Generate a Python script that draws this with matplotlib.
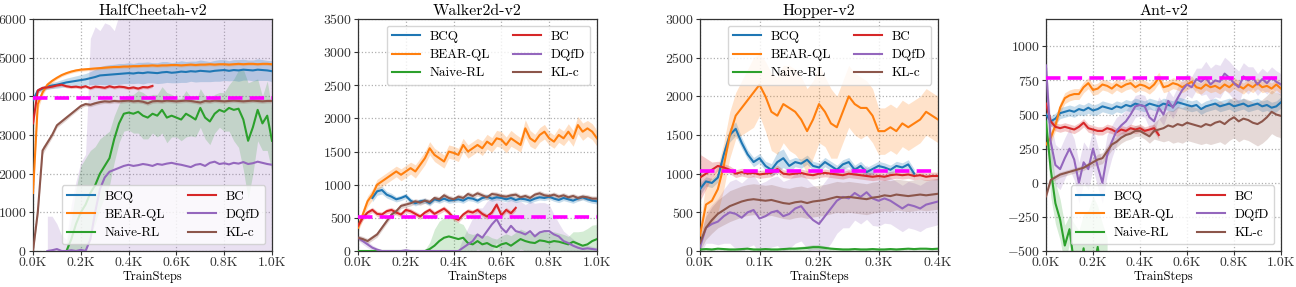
import numpy as np
import matplotlib
matplotlib.use("Agg")
import matplotlib.pyplot as plt
from matplotlib.ticker import FuncFormatter, MultipleLocator

plt.rcParams['font.family'] = 'serif'
plt.rcParams['font.serif'] = ['cmr10']
plt.rcParams['mathtext.fontset'] = 'cm'
plt.rcParams['axes.formatter.use_mathtext'] = True
plt.rcParams['axes.unicode_minus'] = True

methods = ["BCQ", "BEAR-QL", "Naive-RL", "BC", "DQfD", "KL-c"]
colors = ["#1f77b4", "#ff7f0e", "#2ca02c", "#d62728", "#9467bd", "#8c564b"]
titles = ["HalfCheetah-v2", "Walker2d-v2", "Hopper-v2", "Ant-v2"]
x_label = "TrainSteps"

# ---------------- HalfCheetah (x in K steps, 0.02 spacing) ----------------
hc_x = np.linspace(0.0, 1.0, 51)
hc_ref = 3950
hc_bcq = [3900, 4150, 4200, 4250, 4280, 4300, 4330, 4360, 4380, 4400, 4420, 4440, 4470, 4500, 4540, 4550,
          4560, 4570, 4580, 4590, 4600, 4590, 4610, 4600, 4620, 4610, 4600, 4620, 4630, 4610, 4620, 4640,
          4630, 4650, 4640, 4660, 4650, 4640, 4660, 4670, 4680, 4660, 4680, 4670, 4690, 4680, 4670, 4690,
          4680, 4670, 4650]
hc_bcq_std = [50, 60, 60, 70, 80, 90, 100, 110, 120, 130, 140, 150, 170, 200, 230, 250, 260, 260, 270, 260,
              270, 260, 270, 280, 270, 260, 270, 280, 270, 260, 270, 280, 270, 260, 270, 280, 270, 260, 270,
              280, 270, 260, 270, 280, 270, 260, 270, 280, 270, 260, 270]
hc_bear = [1500, 3800, 4100, 4300, 4400, 4480, 4550, 4600, 4640, 4670, 4690, 4700, 4710, 4720, 4730, 4740,
           4750, 4760, 4760, 4770, 4770, 4780, 4780, 4790, 4790, 4800, 4790, 4800, 4800, 4810, 4810, 4800,
           4810, 4820, 4810, 4820, 4820, 4830, 4820, 4830, 4830, 4820, 4830, 4840, 4830, 4840, 4840, 4830,
           4840, 4840, 4830]
hc_bear_std = [100, 150, 80, 60, 50, 40, 40, 40, 40, 40, 40, 40, 40, 40, 40, 40, 40, 40, 40, 40, 40, 40, 40,
               40, 40, 40, 40, 40, 40, 40, 40, 40, 40, 40, 40, 40, 40, 40, 40, 40, 40, 40, 40, 40, 40, 40,
               40, 40, 40, 40, 40]
hc_naive = [0, 300, 700, 1000, 1200, 1500, 1700, 2000, 2200, 2400, 2900, 3300, 3550, 3580, 3550, 3600, 3500,
            3450, 3550, 3500, 3650, 3450, 3500, 3450, 3400, 3550, 3480, 3400, 3700, 3450, 3350, 3550, 3650,
            3600, 3700, 3650, 3680, 3400, 2850, 3200, 3650, 3300, 3500, 2850]
hc_naive_std = [200, 500, 900, 1200, 1200, 1100, 1000, 900, 800, 700, 600, 500, 450, 450, 500, 550, 600, 550,
                500, 550, 600, 650, 550, 500, 550, 600, 500, 450, 500, 550, 600, 500, 450, 500, 600, 800,
                1000, 1300, 1500, 1200, 800, 700, 900, 800]
hc_naive_start = 7
hc_bc = [3300, 4150, 4220, 4230, 4250, 4280, 4300, 4260, 4240, 4250, 4230, 4260, 4210, 4250, 4240, 4220,
         4260, 4230, 4250, 4240, 4210, 4230, 4200, 4240, 4230, 4270]
hc_bc_std = [200, 60, 40, 40, 40, 40, 40, 40, 40, 40, 40, 40, 40, 40, 40, 40, 40, 40, 40, 40, 40, 40, 40,
             40, 40, 40]
hc_dqfd = [0, 20, 50, 0, 0, 20, 0, 30, 0, 300, 1000, 1600, 1900, 2050, 2100, 2150, 2200, 2230, 2200, 2220,
           2250, 2230, 2200, 2250, 2230, 2260, 2280, 2250, 2230, 2200, 2170, 2230, 2250, 2200, 2280, 2310,
           2250, 2270, 2240, 2280, 2260, 2300, 2250, 2270, 2310, 2280, 2250, 2230]
hc_dqfd_hi = [900, 900, 700, 400, 300, 1200, 1800, 2300, 2500, 5500, 5800, 5700, 5900, 5850, 5700, 6100,
              6500, 6500, 6500, 6500, 6500, 6500, 6500, 6500, 6500, 6500, 6500, 6500, 6500, 6500, 6500, 6500,
              6500, 6500, 6500, 6500, 6500, 6500, 6500, 6500, 6500, 6500, 6500, 6500, 6500, 6500, 6500, 6500]
hc_dqfd_start = 3
hc_kl = [0, 1000, 2600, 2800, 3000, 3250, 3350, 3450, 3550, 3650, 3750, 3800, 3780, 3820, 3850, 3870, 3860,
         3880, 3870, 3880, 3890, 3870, 3880, 3860, 3820, 3870, 3880, 3870, 3890, 3880, 3870, 3880, 3890,
         3880, 3860, 3840, 3880, 3870, 3890, 3880, 3870, 3880, 3890, 3880, 3870, 3880, 3890, 3880, 3870,
         3880, 3880]
hc_kl_std = [50, 100, 100, 80, 70, 60, 60, 60, 50, 50, 50, 50, 50, 50, 50, 50, 50, 50, 50, 50, 50, 50, 50,
             50, 50, 50, 50, 50, 50, 50, 50, 50, 50, 50, 50, 50, 50, 50, 50, 50, 50, 50, 50, 50, 50, 50, 50,
             50, 50, 50, 50]

# ---------------- Walker2d ----------------
wk_x = np.linspace(0.0, 1.0, 51)
wk_ref = 510
wk_bcq = [800, 900, 920, 850, 820, 780, 800, 830, 760, 720, 750, 760, 720, 780, 760, 790, 760, 770, 780, 760,
          800, 790, 760, 800, 820, 790, 810, 800, 780, 800, 770, 790, 780, 760, 790, 810, 800, 820, 790, 770,
          800, 780, 760, 790, 810, 780, 760, 750]
wk_bcq_std = [60, 60, 60, 50, 50, 40, 40, 40, 40, 40, 40, 40, 40, 40, 40, 40, 40, 40, 40, 40, 40, 40, 40, 40,
              40, 40, 40, 40, 40, 40, 40, 40, 40, 40, 40, 40, 40, 40, 40, 40, 40, 40, 40, 40, 40, 40, 40, 40]
wk_bcq_start = 3
wk_bear = [350, 550, 750, 850, 1000, 1050, 1100, 1150, 1200, 1150, 1200, 1250, 1200, 1300, 1400, 1550, 1450,
           1400, 1350, 1500, 1480, 1450, 1600, 1500, 1550, 1600, 1550, 1650, 1600, 1700, 1680, 1600, 1700,
           1650, 1600, 1850, 1700, 1650, 1750, 1800, 1700, 1650, 1750, 1700, 1800, 1700, 1900, 1800, 1850,
           1800, 1700]
wk_bear_std = [60, 80, 80, 80, 80, 80, 80, 80, 80, 90, 90, 90, 100, 100, 100, 100, 100, 100, 100, 100, 100,
               100, 100, 100, 100, 100, 110, 110, 110, 120, 120, 120, 120, 110, 110, 130, 120, 110, 110, 110,
               100, 100, 110, 110, 120, 120, 130, 130, 120, 120, 120]
wk_naive = [0, 0, 0, 0, 0, 0, 0, 0, 0, 0, 0, 0, 0, 0, 0, 30, 80, 150, 200, 220, 200, 180, 200, 120, 100, 150,
            100, 120, 80, 60, 100, 120, 80, 130, 180, 150, 130, 120, 160, 150, 130, 150, 140, 120, 100, 140,
            110, 80, 100, 150, 180]
wk_naive_std = [0, 0, 0, 0, 0, 0, 0, 0, 0, 0, 0, 0, 0, 0, 20, 100, 250, 300, 300, 300, 300, 250, 200, 150,
                150, 120, 120, 120, 120, 120, 130, 140, 150, 150, 150, 150, 140, 140, 150, 150, 140, 140, 130,
                130, 120, 150, 180, 220, 240, 240, 220]
wk_bc = [380, 500, 580, 620, 560, 550, 600, 620, 580, 550, 620, 600, 560, 520, 580, 620, 560, 600, 640, 580,
         500, 470, 550, 600, 580, 620, 560, 520, 580, 700, 540, 620, 570, 650]
wk_bc_std = [40, 40, 40, 40, 40, 40, 40, 40, 40, 40, 40, 40, 40, 40, 40, 40, 40, 40, 40, 40, 40, 40, 40, 40,
             40, 40, 40, 40, 40, 40, 40, 40, 40, 40]
wk_dqfd = [200, 150, 100, 50, 20, 0, 0, 0, 0, 0, 10, 0, 0, 0, 0, 0, 0, 0, 0, 0, 0, 0, 50, 100, 150, 250, 200,
           300, 400, 480, 350, 280, 380, 300, 280, 250, 300, 220, 280, 300, 300, 250, 220, 150, 120, 80, 50,
           30, 40, 30, 20]
wk_dqfd_std = [40, 50, 50, 40, 30, 20, 10, 10, 10, 10, 10, 10, 10, 10, 10, 10, 10, 10, 10, 10, 10, 20, 150,
               250, 350, 400, 450, 450, 400, 350, 400, 450, 420, 450, 470, 450, 450, 500, 450, 430, 400, 300,
               200, 150, 120, 100, 80, 60, 50, 40, 30]
wk_kl = [200, 180, 150, 200, 250, 350, 450, 550, 600, 680, 700, 720, 750, 730, 760, 740, 800, 780, 840, 800,
         780, 820, 800, 860, 830, 870, 840, 810, 860, 850, 830, 820, 840, 850, 810, 830, 800, 850, 870, 840,
         830, 850, 820, 840, 810, 830, 800, 820, 810, 790, 790]
wk_kl_std = [40, 40, 40, 40, 40, 40, 40, 40, 40, 40, 40, 40, 40, 40, 40, 40, 40, 40, 40, 40, 40, 40, 40, 40,
             40, 40, 40, 40, 40, 40, 40, 40, 40, 40, 40, 40, 40, 40, 40, 40, 40, 40, 40, 40, 40, 40, 40, 40,
             40, 40, 40]

# ---------------- Hopper (0.01K spacing) ----------------
hp_x = np.linspace(0.0, 0.4, 41)
hp_ref = 1030
hp_bcq = [800, 900, 880, 950, 1250, 1500, 1580, 1400, 1250, 1150, 1200, 1100, 1050, 1150, 1200, 1100, 1150,
          1130, 1180, 1100, 1080, 1150, 1100, 1050, 1120, 1150, 1050, 1100, 1020, 1060, 1100, 1080, 1050,
          1100, 1080, 1120, 1000]
hp_bcq_std = [80, 60, 60, 60, 80, 90, 90, 70, 60, 60, 60, 60, 80, 130, 120, 80, 60, 60, 60, 60, 60,
              60, 60, 60, 60, 60, 60, 60, 60, 60, 60, 60, 60, 60, 60, 60, 60]
hp_bear = [200, 600, 650, 800, 1100, 1500, 1750, 1850, 1950, 2050, 2150, 2000, 1800, 1750, 1900, 1850, 1800,
           1700, 1550, 1700, 1900, 1800, 1650, 1600, 1800, 2000, 1900, 1850, 1850, 1750, 1550, 1550, 1600,
           1550, 1650, 1600, 1650, 1700, 1800, 1750, 1700]
hp_bear_std = [100, 300, 300, 300, 300, 300, 300, 350, 400, 450, 400, 450, 500, 500, 500, 550, 550, 550, 550,
               500, 500, 450, 450, 400, 400, 400, 400, 400, 350, 350, 300, 300, 300, 300, 300, 300, 300, 300,
               300, 300, 300]
hp_naive = [20, 25, 20, 30, 25, 20, 20, 25, 30, 20, 20, 25, 20, 20, 25, 30, 30, 35, 40, 50, 50, 40, 30, 25,
            20, 20, 25, 20, 20, 25, 20, 20, 25, 20, 25, 30, 25, 30, 30, 25, 30]
hp_naive_std = [15, 15, 15, 15, 15, 15, 15, 15, 15, 15, 15, 15, 15, 15, 15, 20, 20, 25, 30, 30, 30, 25, 20,
                15, 15, 15, 15, 15, 15, 15, 15, 15, 15, 15, 15, 15, 15, 15, 15, 15, 15]
hp_bc = [950, 1000, 1050, 1100, 1080, 1050, 1000, 1020, 1000, 1010, 990, 1000, 1010, 1060, 1000, 990, 1000,
         1010, 990, 980, 1000, 1010, 1000, 990, 980, 1000, 990, 980, 970, 960, 970, 960, 980, 990, 980, 990,
         970, 980, 960, 970, 970]
hp_bc_std = [300, 200, 100, 60, 50, 50, 50, 50, 50, 50, 50, 50, 50, 50, 50, 50, 50, 50, 50, 50, 50, 50, 50,
             50, 50, 50, 50, 50, 50, 50, 50, 50, 50, 50, 50, 50, 50, 50, 50, 50, 50]
hp_dqfd = [50, 300, 350, 380, 450, 500, 480, 430, 500, 530, 420, 450, 500, 520, 450, 480, 550, 580, 480, 400,
           350, 450, 550, 650, 700, 680, 750, 700, 760, 680, 650, 680, 650, 600, 550, 600, 580, 550, 600, 620,
           640]
hp_dqfd_std = [100, 200, 250, 300, 350, 400, 450, 450, 450, 450, 450, 450, 450, 450, 450, 450, 450, 450, 450,
               450, 450, 450, 450, 420, 400, 380, 350, 350, 350, 350, 330, 320, 300, 300, 300, 300, 300, 300,
               300, 300, 300]
hp_kl = [100, 300, 400, 480, 530, 580, 610, 640, 660, 670, 660, 650, 660, 640, 620, 610, 630, 640, 620, 640,
         650, 660, 680, 700, 690, 700, 690, 680, 670, 690, 700, 720, 710, 730, 720, 710, 720, 730, 720, 730,
         740]
hp_kl_std = [100, 150, 170, 180, 190, 200, 200, 200, 200, 200, 200, 200, 200, 200, 200, 200, 200, 200, 200,
             200, 200, 200, 200, 200, 200, 200, 200, 200, 200, 200, 200, 200, 200, 200, 200, 200, 200, 200,
             200, 200, 200]

# ---------------- Ant ----------------
an_x = np.linspace(0.0, 1.0, 51)
an_ref = 765
an_bcq = [500, 450, 470, 510, 520, 530, 520, 540, 530, 550, 530, 540, 560, 550, 540, 560, 550, 570, 560, 580,
          570, 560, 580, 570, 560, 580, 570, 560, 590, 580, 570, 560, 570, 540, 560, 570, 580, 560, 570, 580,
          560, 570, 580, 560, 570, 580, 560, 570, 550, 560, 590]
an_bcq_std = [40, 40, 40, 40, 40, 40, 40, 40, 40, 40, 40, 40, 40, 40, 40, 40, 40, 40, 40, 40, 40, 40, 40, 40,
              40, 40, 40, 40, 40, 40, 40, 40, 40, 40, 40, 40, 40, 40, 40, 40, 40, 40, 40, 40, 40, 40, 40, 40,
              40, 40, 40]
an_bear = [280, 330, 420, 550, 620, 640, 650, 650, 700, 730, 680, 690, 720, 710, 690, 720, 700, 720, 730, 700,
           720, 710, 690, 720, 770, 700, 710, 730, 720, 700, 720, 740, 700, 690, 720, 700, 710, 690, 720, 700,
           730, 710, 690, 720, 700, 730, 700, 710, 690, 720, 690]
an_bear_std = [40, 40, 40, 40, 40, 40, 40, 40, 40, 40, 40, 40, 40, 40, 40, 40, 40, 40, 40, 40, 40, 40, 40, 40,
               40, 40, 40, 40, 40, 40, 40, 40, 40, 40, 40, 40, 40, 40, 40, 40, 40, 40, 40, 40, 40, 40, 40, 40,
               40, 40, 40]
an_naive = [450, 100, -150, -270, -460, -340, -600, -700, -480, -700, -650, -470, -700, -800]
an_naive_std = [50, 200, 150, 150, 150, 100, 300, 350, 250, 500, 550, 300, 400, 400]
an_bc = [580, 450, 410, 400, 410, 400, 390, 410, 440, 400, 390, 380, 380, 400, 390, 370, 390, 380, 400, 390,
         400, 380, 390, 400, 350]
an_bc_std = [40, 30, 30, 30, 30, 30, 30, 30, 30, 30, 30, 30, 30, 30, 30, 30, 30, 30, 30, 30, 30, 30, 30, 30, 30]
an_dqfd = [860, 300, 130, 100, 180, 250, 170, 0, 150, 100, 250, 120, 0, 200, 300, 380, 420, 450, 500, 560,
           570, 560, 480, 450, 550, 500, 600, 550, 620, 680, 720, 700, 760, 740, 770, 720, 750, 740, 800, 770,
           730, 700, 780, 750, 770, 720, 760, 730, 770, 740, 720]
an_dqfd_std = [50, 150, 150, 150, 150, 150, 150, 150, 150, 150, 150, 150, 150, 150, 120, 100, 80, 80, 80, 80,
               80, 80, 80, 80, 80, 80, 80, 80, 80, 80, 80, 80, 80, 100, 120, 120, 120, 120, 120, 120, 120, 120,
               100, 100, 80, 80, 80, 80, 80, 80, 80]
an_kl = [-100, 20, 40, 60, 70, 80, 90, 100, 110, 130, 150, 170, 180, 230, 280, 300, 330, 350, 360, 380, 380, 360,
         340, 380, 390, 400, 420, 410, 430, 420, 440, 430, 420, 410, 430, 420, 440, 450, 430, 460, 480, 450,
         470, 460, 440, 430, 450, 480, 520, 500, 490]
an_kl_std = [20, 20, 20, 20, 20, 20, 20, 20, 20, 20, 30, 40, 40, 40, 40, 40, 40, 40, 40, 40, 40, 40, 50, 60,
             80, 100, 110, 120, 130, 130, 130, 130, 130, 130, 140, 140, 150, 150, 150, 150, 150, 150, 150, 150,
             150, 160, 160, 160, 160, 160, 160]

# ------------------------------------------------------------------
fig = plt.figure(figsize=(12.96, 2.87), dpi=100)
W, H = 1296.0, 287.0
ax_px = [(33, 272), (358, 597), (700, 938), (1046, 1281)]
top_px, bot_px = 19, 251
axes = [fig.add_axes([l / W, 1 - bot_px / H, (r - l) / W, (bot_px - top_px) / H]) for l, r in ax_px]

TICK_FS = 10
LEG_FS = 9.5
TITLE_FS = 11.5
XLAB_FS = 9


def band(ax, x, m, s, c, alpha=0.22):
    m = np.asarray(m, float)
    s = np.asarray(s, float)
    ax.fill_between(x, m - s, m + s, color=c, alpha=alpha, linewidth=0, zorder=1)


def line(ax, x, m, c, label):
    ax.plot(x, m, color=c, lw=1.5, label=label, zorder=3)


def style(ax, title, xmax, xstep, ylim, ystep, ref, loc):
    ax.axhline(ref, color="#ff00ff", lw=2.6, dashes=(4, 2), zorder=4)
    ax.set_xlim(0, xmax)
    ax.set_ylim(*ylim)
    ax.xaxis.set_major_locator(MultipleLocator(xstep))
    ax.yaxis.set_major_locator(MultipleLocator(ystep))
    ax.xaxis.set_major_formatter(FuncFormatter(lambda v, p: "%.1fK" % v))
    ax.grid(True, color="#b0b0b0", ls=":", lw=0.9)
    ax.set_axisbelow(True)
    ax.set_title(title, fontsize=TITLE_FS, pad=3)
    ax.set_xlabel(x_label, fontsize=XLAB_FS, labelpad=1)
    ax.tick_params(labelsize=TICK_FS, length=3, pad=1.5, colors="#333333")
    for sp in ax.spines.values():
        sp.set_color("#333333")
        sp.set_linewidth(0.9)
    leg = ax.legend(loc=loc, ncol=2, fontsize=LEG_FS, framealpha=0.8, edgecolor="#cccccc",
                    handlelength=2.1, columnspacing=1.75, borderpad=0.4, labelspacing=0.45,
                    handletextpad=0.75)
    leg.set_zorder(10)


# HalfCheetah
ax = axes[0]
x = hc_x
band(ax, x[hc_dqfd_start:], np.zeros(len(hc_dqfd_hi)) + np.asarray(hc_dqfd_hi) / 2,
     np.asarray(hc_dqfd_hi) / 2, colors[4], 0.2)
band(ax, x[hc_naive_start:], hc_naive, hc_naive_std, colors[2], 0.2)
band(ax, x, hc_bcq, hc_bcq_std, colors[0], 0.25)
band(ax, x, hc_bear, hc_bear_std, colors[1], 0.25)
band(ax, x[:len(hc_bc)], hc_bc, hc_bc_std, colors[3], 0.25)
band(ax, x, hc_kl, hc_kl_std, colors[5], 0.25)
line(ax, x, hc_bcq, colors[0], methods[0])
line(ax, x, hc_bear, colors[1], methods[1])
line(ax, x[hc_naive_start:], hc_naive, colors[2], methods[2])
line(ax, x[:len(hc_bc)], hc_bc, colors[3], methods[3])
line(ax, x[hc_dqfd_start:], hc_dqfd, colors[4], methods[4])
line(ax, x, hc_kl, colors[5], methods[5])
style(ax, titles[0], 1.0, 0.2, (0, 6000), 1000, hc_ref, "lower right")

# Walker2d
ax = axes[1]
x = wk_x
band(ax, x, wk_dqfd, wk_dqfd_std, colors[4], 0.2)
band(ax, x, wk_naive, wk_naive_std, colors[2], 0.2)
band(ax, x[wk_bcq_start:], wk_bcq, wk_bcq_std, colors[0], 0.25)
band(ax, x, wk_bear, wk_bear_std, colors[1], 0.25)
band(ax, x[:len(wk_bc)], wk_bc, wk_bc_std, colors[3], 0.25)
band(ax, x, wk_kl, wk_kl_std, colors[5], 0.25)
line(ax, x[wk_bcq_start:], wk_bcq, colors[0], methods[0])
line(ax, x, wk_bear, colors[1], methods[1])
line(ax, x, wk_naive, colors[2], methods[2])
line(ax, x[:len(wk_bc)], wk_bc, colors[3], methods[3])
line(ax, x, wk_dqfd, colors[4], methods[4])
line(ax, x, wk_kl, colors[5], methods[5])
style(ax, titles[1], 1.0, 0.2, (0, 3500), 500, wk_ref, "upper right")

# Hopper
ax = axes[2]
x = hp_x
band(ax, x, hp_dqfd, hp_dqfd_std, colors[4], 0.2)
band(ax, x, hp_naive, hp_naive_std, colors[2], 0.25)
band(ax, x[:len(hp_bcq)], hp_bcq, hp_bcq_std, colors[0], 0.25)
band(ax, x, hp_bear, hp_bear_std, colors[1], 0.22)
band(ax, x, hp_bc, hp_bc_std, colors[3], 0.25)
band(ax, x, hp_kl, hp_kl_std, colors[5], 0.22)
line(ax, x[:len(hp_bcq)], hp_bcq, colors[0], methods[0])
line(ax, x, hp_bear, colors[1], methods[1])
line(ax, x, hp_naive, colors[2], methods[2])
line(ax, x, hp_bc, colors[3], methods[3])
line(ax, x, hp_dqfd, colors[4], methods[4])
line(ax, x, hp_kl, colors[5], methods[5])
style(ax, titles[2], 0.4, 0.1, (0, 3000), 500, hp_ref, "upper right")

# Ant
ax = axes[3]
x = an_x
band(ax, x, an_dqfd, an_dqfd_std, colors[4], 0.2)
band(ax, x[:len(an_naive)], an_naive, an_naive_std, colors[2], 0.2)
band(ax, x, an_bcq, an_bcq_std, colors[0], 0.25)
band(ax, x, an_bear, an_bear_std, colors[1], 0.25)
band(ax, x[:len(an_bc)], an_bc, an_bc_std, colors[3], 0.25)
band(ax, x, an_kl, an_kl_std, colors[5], 0.22)
line(ax, x, an_bcq, colors[0], methods[0])
line(ax, x, an_bear, colors[1], methods[1])
line(ax, x[:len(an_naive)], an_naive, colors[2], methods[2])
line(ax, x[:len(an_bc)], an_bc, colors[3], methods[3])
line(ax, x, an_dqfd, colors[4], methods[4])
line(ax, x, an_kl, colors[5], methods[5])
style(ax, titles[3], 1.0, 0.2, (-500, 1200), 250, an_ref, "lower right")
ax.set_yticks([-500, -250, 0, 250, 500, 750, 1000])

fig.savefig("out.png", dpi=100)
